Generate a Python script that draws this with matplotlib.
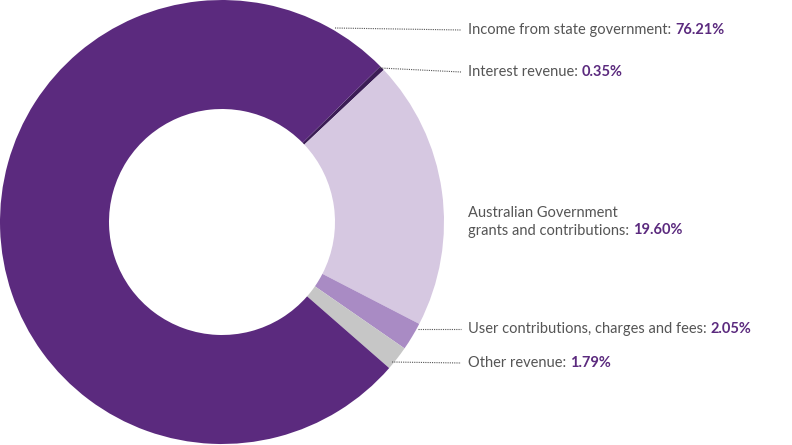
import matplotlib.pyplot as plt

# data, clockwise from the top-right
labels = ["Interest revenue: ", "Australian Government\ngrants and contributions: ",
          "User contributions, charges and fees: ", "Other revenue: ",
          "Income from state government: "]
values = [0.35, 19.60, 2.05, 1.79, 76.21]
colors = ["#3b1d55", "#d6c8e1", "#a98bc4", "#c6c6c6", "#5b2a7e"]
# label text positions (pixels) and leader start points
label_y = [72, 222, 329, 363, 30]
leader = [(380, 68), None, (418, 329), (392, 362), (335, 28)]

plt.rcParams['font.family'] = ['Lato', 'DejaVu Sans']
fig = plt.figure(figsize=(7.92, 4.45), dpi=100)
ax = fig.add_axes([0, 0, 1, 1])
# y axis is inverted below, so angles run the other way
ax.pie(values, colors=colors, startangle=-44.5, counterclock=True,
       center=(222, 222), radius=222, frame=True,
       wedgeprops=dict(width=109, edgecolor="none"))
ax.set_xlim(0, 792)
ax.set_ylim(445, 0)
ax.set_aspect("equal")
ax.axis("off")

fig.canvas.draw()
r = fig.canvas.get_renderer()
for lab, v, y, ld in zip(labels, values, label_y, leader):
    ax.text(468, y, lab, fontsize=10.5, color="#555555", va="center",
            linespacing=1.3)
    last = lab.split("\n")[-1]
    t2 = ax.text(468, y, last, fontsize=10.5, alpha=0, va="center")
    w = t2.get_window_extent(r).width
    yy = y + (8 if "\n" in lab else 0)
    ax.text(468 + w, yy, f"{v:.2f}%", fontsize=10.5, color="#5b2a7e",
            fontweight="bold", va="center")
    if ld is not None:
        ax.plot([ld[0], 461], [ld[1], y], ls=(0, (1, 1)), color="#555555", lw=0.8)

fig.savefig("out.png", dpi=100)
